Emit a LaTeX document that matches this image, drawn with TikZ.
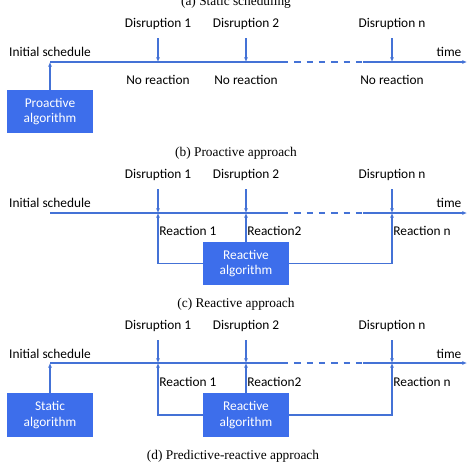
\documentclass[tikz,border=0pt]{standalone}
\usepackage{fontspec}
\setmainfont{Carlito}
\newfontfamily\capfont{Liberation Serif}
\usetikzlibrary{arrows.meta,positioning,calc}
\definecolor{lineblue}{RGB}{68,114,214}
\definecolor{boxblue}{RGB}{61,110,235}
\tikzset{
  flow/.style={draw=lineblue,line width=1.1pt},
  arr/.style={flow,-{Latex[length=4pt,width=3.5pt]}},
  gap/.style={flow,dash pattern=on 5.5pt off 5pt},
  lbl/.style={font=\fontsize{11.4}{13}\selectfont,inner sep=1pt},
  caption/.style={font=\capfont\fontsize{11.4}{13}\selectfont,anchor=base},
  algo/.style={fill=boxblue,text=white,align=center,minimum width=73pt,
    minimum height=37pt,inner sep=0pt,font=\fontsize{11.4}{13.5}\selectfont}
}

\begin{document}
\begin{tikzpicture}[x=0.03cm,y=-0.03cm]
  \useasboundingbox (0,0) rectangle (474,474);
  % Captions
  \node[caption] (capa) at (236,5) {(a) Static scheduling};
  \node[caption] (capb) at (236,156) {(b) Proactive approach};
  \node[caption] (capc) at (236,307) {(c) Reactive approach};
  \node[caption] (capd) at (233,459) {(d) Predictive-reactive approach};

  % (b) Proactive approach
  \coordinate (bstart) at (50,62);
  \coordinate (bgap1) at (282,62);
  \coordinate (bgap2) at (363,62);
  \coordinate (bend) at (467,62);
  \draw[flow] (bstart) -- (bgap1);
  \draw[gap] (bgap1) -- (bgap2);
  \draw[arr] (bgap2) -- (bend);
  \node[lbl] (binit) at (50,52) {Initial schedule};
  \node[lbl] (btime) at (449,52) {time};
  \foreach \x/\n [count=\k] in {158/1,246/2,392/n}{
    \node[lbl] (bdis\k) at (\x,24) {Disruption \n};
    \draw[arr,shorten <=6pt] (bdis\k) -- (bdis\k |- bstart);
    \node[lbl] (bno\k) at (\x,80) {No reaction};
  }
  \node[algo] (bpro) at (50,111.5) {Proactive\\algorithm};
  \draw[arr] (bpro) -- (bpro |- bstart);

  % (c) Reactive approach
  \coordinate (cstart) at (50,213);
  \coordinate (cgap1) at (282,213);
  \coordinate (cgap2) at (363,213);
  \coordinate (cend) at (467,213);
  \draw[flow] (cstart) -- (cgap1);
  \draw[gap] (cgap1) -- (cgap2);
  \draw[arr] (cgap2) -- (cend);
  \node[lbl] (cinit) at (50,203) {Initial schedule};
  \node[lbl] (ctime) at (449,203) {time};
  \foreach \x/\n/\r [count=\k] in {158/1/Reaction 1,246/2/Reaction2,392/n/Reaction n}{
    \node[lbl] (cdis\k) at (\x,175) {Disruption \n};
    \draw[arr,shorten <=6pt] (cdis\k) -- (cdis\k |- cstart);
    \node[lbl,anchor=west] (crea\k) at (\x,231) {\r};
  }
  \node[algo] (creac) at (246,263.5) {Reactive\\algorithm};
  \draw[arr] (creac.west) -| (cdis1 |- cstart);
  \draw[arr] (creac.north) -- (creac.north |- cstart);
  \draw[arr] (creac.east) -| (cdis3 |- cstart);

  % (d) Predictive-reactive approach
  \coordinate (dstart) at (50,363);
  \coordinate (dgap1) at (282,363);
  \coordinate (dgap2) at (363,363);
  \coordinate (dend) at (467,363);
  \draw[flow] (dstart) -- (dgap1);
  \draw[gap] (dgap1) -- (dgap2);
  \draw[arr] (dgap2) -- (dend);
  \node[lbl] (dinit) at (50,354) {Initial schedule};
  \node[lbl] (dtime) at (449,354) {time};
  \foreach \x/\n/\r [count=\k] in {158/1/Reaction 1,246/2/Reaction2,392/n/Reaction n}{
    \node[lbl] (ddis\k) at (\x,326) {Disruption \n};
    \draw[arr,shorten <=6pt] (ddis\k) -- (ddis\k |- dstart);
    \node[lbl,anchor=west] (drea\k) at (\x,382) {\r};
  }
  \node[algo] (dstat) at (50,415) {Static\\algorithm};
  \draw[arr] (dstat) -- (dstat |- dstart);
  \node[algo] (dreac) at (246,415) {Reactive\\algorithm};
  \draw[arr] (dreac.west) -| (ddis1 |- dstart);
  \draw[arr] (dreac.north) -- (dreac.north |- dstart);
  \draw[arr] (dreac.east) -| (ddis3 |- dstart);
\end{tikzpicture}
\end{document}
